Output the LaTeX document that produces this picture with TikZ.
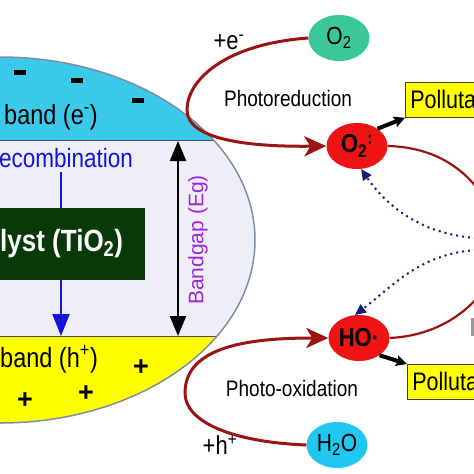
\documentclass[tikz,border=0pt]{standalone}
\usepackage{graphicx}
\usepackage{fontspec}
\setmainfont{Liberation Sans}
\usetikzlibrary{arrows.meta,shapes.geometric}
\newcommand{\vstr}[1]{\scalebox{1}[1.18]{#1}}
\definecolor{lav}{RGB}{238,238,248}
\definecolor{bord}{RGB}{128,142,165}
\definecolor{cband}{RGB}{58,200,235}
\definecolor{vband}{RGB}{255,255,0}
\definecolor{gbox}{RGB}{8,58,8}
\definecolor{rblue}{RGB}{20,20,220}
\definecolor{purp}{RGB}{160,40,210}
\definecolor{dred}{RGB}{155,20,20}
\definecolor{ogreen}{RGB}{60,200,150}
\definecolor{rred}{RGB}{238,20,20}
\definecolor{hcyan}{RGB}{30,200,240}
\definecolor{navy}{RGB}{20,30,110}
\tikzset{
  lbl/.style={inner sep=0pt, font=\fontsize{19}{22}\selectfont},
  chg/.style={inner sep=0pt, font=\fontsize{22}{24}\selectfont},
  big/.style={inner sep=0pt, font=\fontsize{23.5}{26}\selectfont},
  species/.style={ellipse, inner sep=0pt, minimum width=61pt, minimum height=46pt, font=\fontsize{21}{24}\selectfont},
  pbox/.style={draw=black!75, line width=0.8pt, fill=vband, anchor=north west, minimum height=35pt, inner xsep=5pt, inner ysep=0pt, font=\fontsize{21.5}{26}\selectfont},
  redarr/.style={draw=dred, line width=3pt, -{Stealth[length=22pt,width=20pt,inset=6pt]}},
  redline/.style={draw=dred, line width=2.2pt},
  blkarr/.style={draw=black, line width=4pt, -{Stealth[length=11pt,width=11pt,inset=2pt]}},
  dotarr/.style={draw=navy, line width=2pt, dash pattern=on 2pt off 4pt, -{Triangle[length=11pt,width=10pt]}},
  minus/.style={fill=black, minimum width=12pt, minimum height=5pt, inner sep=0pt},
  plus/.style={inner sep=0pt, font=\bfseries\fontsize{27}{30}\selectfont}
}
\begin{document}
\begin{tikzpicture}[x=1pt,y=-1pt]
\useasboundingbox (0,0) rectangle (474,474);
\clip (0,0) rectangle (474,474);
% photocatalyst particle
\fill[lav] (0,240) ellipse [x radius=255pt, y radius=183pt];
\begin{scope}
  \clip (0,240) ellipse [x radius=255pt, y radius=183pt];
  \fill[cband] (-10,0) rectangle (300,140);
  \fill[vband] (-10,336) rectangle (300,480);
  \draw[black!70, line width=0.8pt] (-10,140) -- (300,140);
  \draw[black!70, line width=0.8pt] (-10,336) -- (300,336);
\end{scope}
\draw[bord, line width=1.5pt] (0,240) ellipse [x radius=255pt, y radius=183pt];
% electrons and holes
\node[minus] (m1) at (20,72) {};
\node[minus] (m2) at (77,80) {};
\node[minus] (m3) at (138,100) {};
\node[plus] (p1) at (25,401) {+};
\node[plus] (p2) at (86,394) {+};
\node[plus] (p3) at (141,368) {+};
% band labels
\node[big, anchor=west] (cbl) at (4,117) {\vstr{band (e\textsuperscript{-})}};
\node[big, anchor=west] (vbl) at (0,359) {\vstr{band (h\textsuperscript{+})}};
% recombination
\node[big, anchor=west, text=rblue, font=\fontsize{22.5}{26}\selectfont] (rec) at (-1,158) {\vstr{ecombination}};
\node[fill=gbox, anchor=north east, minimum width=160pt, minimum height=72pt, inner sep=0pt] (cat) at (145,208) {};
\node[inner sep=0pt, anchor=west, text=white, font=\bfseries\fontsize{26}{30}\selectfont] (catl) at (0,244) {\vstr{lyst (TiO\textsubscript{2})}};
\coordinate (r1) at (61,172);
\coordinate (r2) at (61,208);
\coordinate (r3) at (61,280);
\coordinate (r4) at (61,336);
\draw[rblue, line width=2.2pt] (r1) -- (r2);
\draw[rblue, line width=2.2pt, -{Triangle[length=22pt,width=17pt]}] (r3) -- (r4);
% bandgap
\coordinate (bg1) at (178,141);
\coordinate (bg2) at (178,336);
\draw[black, line width=2.2pt, {Triangle[length=20pt,width=16pt]}-{Triangle[length=20pt,width=16pt]}] (bg1) -- (bg2);
\node[inner sep=0pt, text=purp, rotate=90, font=\fontsize{21}{24}\selectfont] (bgl) at (198,240) {Bandgap (Eg)};
% species
\node[species, fill=ogreen] (O2) at (339,38) {\vstr{O\textsubscript{2}}};
\node[species, fill=rred, font=\bfseries\fontsize{22}{24}\selectfont] (O2m) at (357,146) {\vstr{O\textsubscript{2}\textsuperscript{:}}};
\node[species, fill=rred, font=\bfseries\fontsize{22}{24}\selectfont] (HO) at (359,338) {\vstr{HO\textperiodcentered}};
\node[species, fill=hcyan] (H2O) at (337,445) {\vstr{H\textsubscript{2}O}};
\node[pbox] (P1) at (405,82) {\vstr{Pollutant}};
\node[pbox] (P2) at (407,364) {\vstr{Pollutant}};
% reaction labels
\node[chg] (pe) at (229,42) {\vstr{+e\textsuperscript{-}}};
\node[lbl] (pr) at (288,98) {\vstr{Photoreduction}};
\node[lbl] (po) at (292,388) {\vstr{Photo-oxidation}};
\node[chg] (ph) at (220,445) {\vstr{+h\textsuperscript{+}}};
% photoreduction / photo-oxidation curves
\draw[redarr] (O2.west) .. controls (225,44) and (187,80) .. (187,110) .. controls (187,140) and (250,147) .. (O2m.west);
\draw[redarr] (H2O.west) .. controls (232,442) and (185,422) .. (185,393) .. controls (185,346) and (250,338) .. (HO.west);
% attack on pollutants
\draw[blkarr] (O2m.40) -- (P1.south west);
\draw[blkarr] (HO.-40) -- (P2.north west);
% outgoing curves to the right
\coordinate (e1) at (482,195);
\coordinate (e2) at (482,292);
\draw[redline] (O2m.east) .. controls (430,147) and (462,165) .. (e1);
\draw[redline] (HO.east) .. controls (430,336) and (462,318) .. (e2);
% dotted regeneration arrows
\coordinate (d1) at (476,238);
\coordinate (d2) at (476,250);
\draw[dotarr] (d1) .. controls (420,234) and (386,205) .. (O2m.-80);
\draw[dotarr] (d2) .. controls (420,254) and (394,285) .. (HO.100);
% partly visible box at right edge
\fill[black!40] (471,318) rectangle (480,336);
\end{tikzpicture}
\end{document}
